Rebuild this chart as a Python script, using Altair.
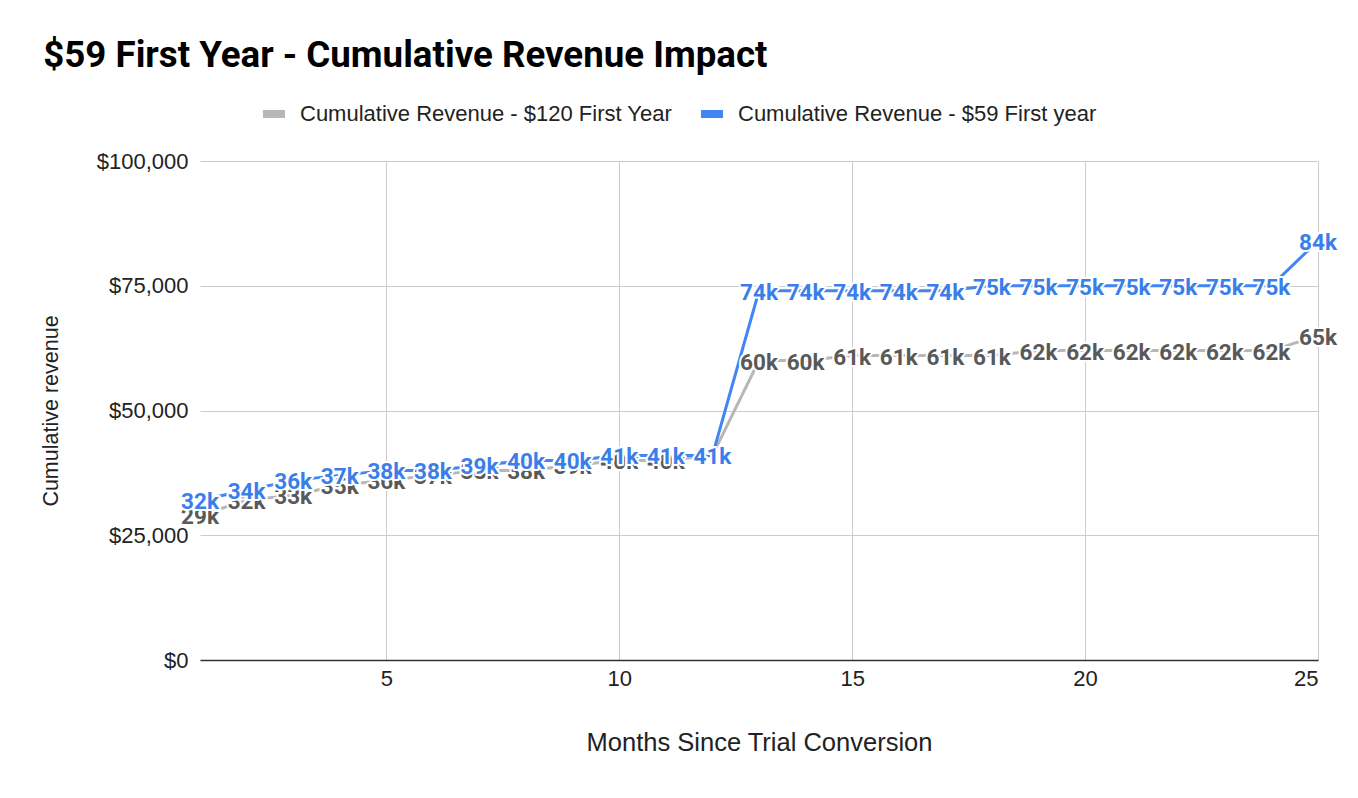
import altair as alt
import pandas as pd

# Months since trial conversion
months = list(range(1, 26))

# Cumulative revenue per plan, in thousands of dollars
rev_120_first_year_k = [29, 32, 33, 35, 36, 37, 38, 38, 39, 40, 40, 41,
                        60, 60, 61, 61, 61, 61, 62, 62, 62, 62, 62, 62, 65]
rev_59_first_year_k = [32, 34, 36, 37, 38, 38, 39, 40, 40, 41, 41, 41,
                       74, 74, 74, 74, 74, 75, 75, 75, 75, 75, 75, 75, 84]

series_names = ["Cumulative Revenue - $120 First Year",
                "Cumulative Revenue - $59 First year"]
line_colors = ["#b7b7b7", "#4285f4"]
label_colors = ["#595959", "#3a7ee9"]

y_ticks = [0, 25000, 50000, 75000, 100000]
x_ticks = [5, 10, 15, 20, 25]

rows = []
for name, values in zip(series_names, [rev_120_first_year_k, rev_59_first_year_k]):
    for m, k in zip(months, values):
        rows.append({"month": m, "revenue": k * 1000, "label": f"{k}k", "series": name})
df = pd.DataFrame(rows)

AXIS_FONT = "Liberation Sans"

x_enc = alt.X(
    "month:Q",
    scale=alt.Scale(domain=[1, 25], nice=False, zero=False),
    axis=alt.Axis(
        values=x_ticks, grid=True, gridColor="#cccccc", gridWidth=1,
        domain=True, domainColor="#333333", domainWidth=1.5,
        ticks=False, tickSize=0, labelPadding=8,
        labelFont=AXIS_FONT, labelFontSize=22, labelColor="#222222",
        title="Months Since Trial Conversion", titleFont=AXIS_FONT,
        titleFontSize=25.5, titleFontWeight="normal", titleColor="#222222",
        titlePadding=41,
    ),
)
y_enc = alt.Y(
    "revenue:Q",
    scale=alt.Scale(domain=[0, 100000], nice=False),
    axis=alt.Axis(
        values=y_ticks, format="$,.0f", grid=True, gridColor="#cccccc", gridWidth=1,
        domain=False, ticks=False, tickSize=0, labelPadding=12,
        labelFont=AXIS_FONT, labelFontSize=22, labelColor="#222222",
        title="Cumulative revenue", titleFont=AXIS_FONT, titleFontSize=21.5,
        titleFontWeight="normal", titleColor="#222222", titlePadding=34,
    ),
)

base = alt.Chart(df)

lines = base.mark_line(strokeWidth=3).encode(
    x=x_enc,
    y=y_enc,
    color=alt.Color(
        "series:N",
        sort=series_names,
        scale=alt.Scale(domain=series_names, range=line_colors),
        legend=alt.Legend(
            title=None, orient="none", legendX=59, legendY=-62,
            direction="horizontal", padding=0,
            symbolType="stroke", symbolSize=484, symbolStrokeWidth=8,
            labelFont=AXIS_FONT, labelFontSize=22, labelColor="#222222",
            labelOffset=11, columnPadding=12, labelLimit=0,
        ),
    ),
    order="month:Q",
)

label_layers = []
for name, color in zip(series_names, label_colors):
    subset = base.transform_filter(alt.datum.series == name)
    halo = subset.mark_text(
        font="Roboto", fontWeight="bold", fontSize=22.5, dy=2,
        color="white", stroke="white", strokeWidth=4, strokeJoin="round",
    ).encode(x=x_enc, y=y_enc, text="label:N")
    text = subset.mark_text(
        font="Roboto", fontWeight="bold", fontSize=22.5, dy=2, color=color,
    ).encode(x=x_enc, y=y_enc, text="label:N")
    label_layers += [halo, text]

chart = alt.layer(lines, *label_layers).properties(
    width=1118,
    height=499,
    autosize=alt.AutoSizeParams(type="none"),
    padding={"left": 200, "top": 161, "right": 40, "bottom": 138},
    title=alt.TitleParams(
        "$59 First Year - Cumulative Revenue Impact",
        font="Roboto", fontWeight="bold", fontSize=36.7, color="#000000",
        anchor="start", frame="bounds", dx=3, offset=24,
    ),
    background="white",
).configure_view(stroke=None)

chart.save("out.html", embed_options={"renderer": "svg", "actions": False})
